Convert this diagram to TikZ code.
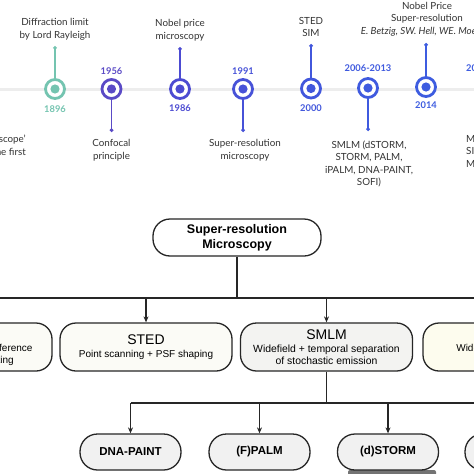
\documentclass[tikz,border=0pt]{standalone}
\usepackage{fontspec}
\setmainfont{Lato}
\newfontfamily\flowfont{Liberation Sans}
\usetikzlibrary{arrows.meta}
\definecolor{cteal}{HTML}{74C4B0}
\definecolor{c1956}{HTML}{5A4AC6}
\definecolor{c1986}{HTML}{4C4BD2}
\definecolor{c1991}{HTML}{4752D8}
\definecolor{c2000}{HTML}{4257DC}
\definecolor{c2006}{HTML}{3F5ADF}
\definecolor{c2014}{HTML}{3D5CE0}
\definecolor{tltext}{HTML}{333333}
\definecolor{creamA}{HTML}{FBFBF6}
\definecolor{creamB}{HTML}{FDFCEE}
\definecolor{greyA}{HTML}{F3F3F1}
\definecolor{greyB}{HTML}{F1F1F1}
\begin{document}
\begin{tikzpicture}[x=1pt,y=-1pt,
  ring/.style={circle, draw=#1, line width=2.8pt, minimum size=19pt, inner sep=0pt, fill=white,
    path picture={\fill[#1] (path picture bounding box.center) circle (4.6pt);}},
  stem/.style={draw=#1, line width=1.2pt, -{Circle[length=3.6pt]}},
  tl/.style={font=\fontsize{9.8}{12.6}\selectfont, text=tltext, align=center, inner sep=0pt},
  yr/.style={font=\fontsize{9.3}{11}\selectfont\bfseries, text=#1, inner sep=0pt},
  fbox/.style={draw=black!85, line width=1.3pt, align=center, inner sep=0pt, font=\flowfont},
  conn/.style={draw=black!85, line width=1.2pt},
  arr/.style={conn, -{Stealth[length=6pt,width=5pt]}}
]
\useasboundingbox (0,0) rectangle (474,474);
\clip (0,0) rectangle (474,474);
\fill[white] (0,0) rectangle (474,474);

% ---------------- timeline ----------------
\coordinate (tlL) at (0,89);
\coordinate (tlR) at (474,89);
\draw[line width=3pt, black!7] (tlL) -- (tlR);

% 1896
\node[ring=cteal] (m1896) at (55,89) {};
\coordinate (s1896) at (55,46);
\draw[stem=cteal] (m1896.north) -- (s1896);
\node[tl] (l1896) at (55,29) {Diffraction limit\\by Lord Rayleigh};
\node[yr=cteal] (y1896) at (55,109) {1896};

% 1956
\node[ring=c1956] (m1956) at (111.5,89) {};
\coordinate (s1956) at (111.5,132);
\draw[stem=c1956] (m1956.south) -- (s1956);
\node[tl] (l1956) at (111.5,150) {Confocal\\principle};
\node[yr=c1956] (y1956) at (111.5,71) {1956};

% 1986
\node[ring=c1986] (m1986) at (180,89) {};
\coordinate (s1986) at (180,47);
\draw[stem=c1986] (m1986.north) -- (s1986);
\node[tl] (l1986) at (180,30) {Nobel price\\microscopy};
\node[yr=c1986] (y1986) at (180,108) {1986};

% 1991
\node[ring=c1991] (m1991) at (243,89) {};
\coordinate (s1991) at (243,132);
\draw[stem=c1991] (m1991.south) -- (s1991);
\node[tl] (l1991) at (245,150) {Super-resolution\\microscopy};
\node[yr=c1991] (y1991) at (243,71) {1991};

% 2000
\node[ring=c2000] (m2000) at (311,88.5) {};
\coordinate (s2000) at (311,44);
\draw[stem=c2000] (m2000.north) -- (s2000);
\node[tl] (l2000) at (311,27) {STED\\SIM};
\node[yr=c2000] (y2000) at (311,108) {2000};

% 2006-2013
\node[ring=c2006] (m2006) at (368,88) {};
\coordinate (s2006) at (368,131);
\draw[stem=c2006] (m2006.south) -- (s2006);
\node[tl] (l2006) at (369,164) {SMLM (dSTORM,\\STORM, PALM,\\iPALM, DNA-PAINT,\\SOFI)};
\node[yr=c2006] (y2006) at (368,68) {2006-2013};

% 2014
\node[ring=c2014] (m2014) at (426,87) {};
\coordinate (s2014) at (426,43);
\draw[stem=c2014] (m2014.north) -- (s2014);
\node[tl] (l2014) at (427,19) {Nobel Price\\Super-resolution\\\textit{E. Betzig, SW. Hell, WE. Moerner}};
\node[yr=c2014] (y2014) at (426,105) {2014};

% partial right
\node[yr=c2014, anchor=west] (yR) at (466,68) {2016};
\node[tl, align=left, anchor=north west] (lR) at (466,135) {MINFLUX\\SIMFLUX\\MINSTED};

% partial left
\node[tl, align=right, anchor=north east] (lL) at (26,135) {`Ultramicroscope'\\one of the first};

% ---------------- flowchart ----------------
\node[fbox, fill=white, rounded corners=17pt, minimum width=168pt, minimum height=37pt,
      font=\flowfont\bfseries\fontsize{12.5}{15}\selectfont] (main) at (237,237.5) {Super-resolution\\Microscopy};

\node[fbox, fill=creamA, rounded corners=16pt, minimum width=172pt, minimum height=48pt] (sim) at (-34,347)
  {{\fontsize{14}{14}\selectfont SIM}\\[1pt]{\fontsize{10}{12}\selectfont Widefield + fringe interference}\\{\fontsize{10}{12}\selectfont phase pattern shifting}};
\node[fbox, fill=creamA, rounded corners=16pt, minimum width=172pt, minimum height=48pt] (sted) at (146,347)
  {{\fontsize{14}{14}\selectfont STED}\\[1pt]{\fontsize{10}{12}\selectfont Point scanning + PSF shaping}};
\node[fbox, fill=greyA, rounded corners=16pt, minimum width=172pt, minimum height=48pt] (smlm) at (326.5,347)
  {{\fontsize{14}{14}\selectfont SMLM}\\[1pt]{\fontsize{10.4}{12}\selectfont Widefield + temporal separation}\\{\fontsize{10.4}{12}\selectfont of stochastic emission}};
\node[fbox, fill=creamB, rounded corners=16pt, minimum width=172pt, minimum height=48pt] (sofi) at (509,347)
  {{\fontsize{14}{14}\selectfont SOFI}\\[1pt]{\fontsize{10}{12}\selectfont Widefield + interference}\\{\fontsize{10}{12}\selectfont analysis}};

\coordinate (bus1) at (237,298);
\draw[conn] (main.south) -- (bus1);
\draw[conn] (-40,298) -- (520,298);
\draw[arr] (sim.north |- bus1) -- (sim.north);
\draw[arr] (sted.north |- bus1) -- (sted.north);
\draw[arr] (smlm.north |- bus1) -- (smlm.north);
\draw[arr] (sofi.north |- bus1) -- (sofi.north);

% row 3
\fill[black!55, rounded corners=2pt] (348,470) rectangle (436,476);
\node[fbox, fill=greyB, rounded corners=17.5pt, minimum width=101pt, minimum height=36pt,
      font=\flowfont\bfseries\fontsize{11.5}{13}\selectfont] (dna) at (130.5,452) {DNA-PAINT};
\node[fbox, fill=greyB, rounded corners=17.5pt, minimum width=101pt, minimum height=36pt,
      font=\flowfont\bfseries\fontsize{11.5}{13}\selectfont] (palm) at (259.5,452) {(F)PALM};
\node[fbox, fill=greyB, rounded corners=17.5pt, minimum width=101pt, minimum height=36pt,
      font=\flowfont\bfseries\fontsize{11.5}{13}\selectfont] (storm) at (388,452) {(d)STORM};
\node[fbox, fill=greyB, rounded corners=17.5pt, minimum width=101pt, minimum height=36pt,
      font=\flowfont\bfseries\fontsize{11.5}{13}\selectfont] (ipalm) at (515.5,452) {iPALM};

\coordinate (bus2) at (326.7,403);
\draw[conn] (smlm.south -| bus2) -- (bus2);
\draw[conn] (dna.north |- bus2) -- (520,403);
\draw[arr] (dna.north |- bus2) -- (dna.north);
\draw[arr] (palm.north |- bus2) -- (palm.north);
\draw[arr] (storm.north |- bus2) -- (storm.north);
\draw[arr] (ipalm.north |- bus2) -- (ipalm.north);
\end{tikzpicture}
\end{document}
